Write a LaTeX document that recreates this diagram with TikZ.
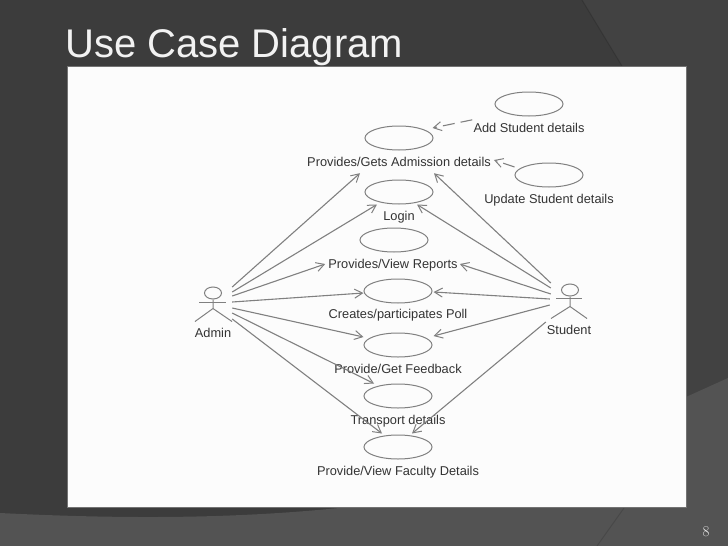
\documentclass[tikz,border=0pt]{standalone}
\usepackage{fontspec}
\setmainfont{Liberation Sans}
\usepackage{xcolor}
\usetikzlibrary{arrows.meta,shapes.geometric}
\definecolor{slideback}{HTML}{3C3C3C}
\definecolor{slideright}{HTML}{424242}
\definecolor{slidelow}{HTML}{535353}
\definecolor{umlgray}{HTML}{808080}
\definecolor{umltext}{HTML}{333333}

\begin{document}
\begin{tikzpicture}[
  x=1pt, y=-1pt,
  usecase/.style={draw=umlgray, ellipse, line width=1pt, minimum width=68pt, minimum height=24pt, inner sep=0pt},
  lab/.style={text=umltext, inner sep=0pt, text height=9.5pt, text depth=2.5pt, font=\fontsize{12.8}{14}\selectfont},
  actor/.style={minimum width=38pt, minimum height=34pt, inner sep=0pt},
  head/.style={draw=umlgray, ellipse, line width=1pt, minimum width=17pt, minimum height=12pt, inner sep=0pt},
  figure/.style={draw=umlgray, line width=1pt},
  assoc/.style={draw=umlgray, line width=1.1pt, -{Straight Barb[length=8pt,width=9pt,line width=1pt]}},
  incl/.style={assoc, dash pattern=on 12pt off 6pt}
]
\useasboundingbox (0,0) rectangle (728,546);
\fill[slideback] (0,0) rectangle (728,546);
\fill[slideright] (582,0) -- (622,66) -- (686,66) -- (686,400) -- (728,400) -- (728,0) -- cycle;
\draw[black, opacity=0.15, line width=1pt] (582,0) -- (622,66);
% lower band
\fill[slidelow] (0,513) .. controls (120,519) and (230,519) .. (339,508) -- (686,397) -- (728,378) -- (728,546) -- (0,546) -- cycle;
\draw[black, opacity=0.12, line width=1pt] (624,508) -- (597,546);
\fill[white!99!black, draw=gray!90!black, line width=0.8pt] (67,66) rectangle (686,507);
\node[anchor=base west, text=white!95!black, inner sep=0pt, font=\fontsize{40}{44}\selectfont] (title) at (65,57) {Use Case Diagram};
\node[text=white!92!black, inner sep=0pt, font=\fontfamily{lmr}\fontsize{15}{16}\selectfont] (pageno) at (706,532) {8};

\node[usecase] (uadd) at (529,104) {};
\node[lab] (ladd) at (529,129) {Add Student details};
\node[usecase] (uupd) at (549,175) {};
\node[lab] (lupd) at (549,200) {Update Student details};
\node[usecase] (uprov) at (399,138) {};
\node[lab] (lprov) at (399,163) {Provides/Gets Admission details};
\node[usecase] (ulogin) at (399,192) {};
\node[lab] (llogin) at (399,217) {Login};
\node[usecase] (urep) at (394,240) {};
\node[lab] (lrep) at (393,265) {Provides/View Reports};
\node[usecase] (upoll) at (398,291) {};
\node[lab] (lpoll) at (398,315) {Creates/participates Poll};
\node[usecase] (ufeed) at (398,345) {};
\node[lab] (lfeed) at (398,370) {Provide/Get Feedback};
\node[usecase] (utrans) at (398,396) {};
\node[lab] (ltrans) at (398,421) {Transport details};
\node[usecase] (ufac) at (398,447) {};
\node[lab] (lfac) at (398,472) {Provide/View Faculty Details};

% actors
\node[actor] (admin) at (213,303) {};
\node[head] (ahead) at (213,293) {};
\node[lab] (ladmin) at (213,334) {Admin};
\draw[figure] (ahead.south) -- ++(0,9) -- ++(-18,13) ++(18,-13) -- ++(19,13);
\draw[figure] (199,302) -- (226,302);
\node[actor] (student) at (570,302) {};
\node[head] (shead) at (570,290) {};
\node[lab] (lstudent) at (569,331) {Student};
\draw[figure] (shead.south) -- ++(0,10) -- ++(-19,12) ++(19,-12) -- ++(17,12);
\draw[figure] (556,298) -- (582,298);

\draw[incl] ([xshift=-1pt,yshift=3pt]ladd.north west) -- ([xshift=-1pt,yshift=10pt]uprov.east);
\draw[incl] ([yshift=8pt]uupd.west) -- ([xshift=3pt,yshift=3pt]lprov.east);

\draw[assoc] ([yshift=16pt]admin.east) -- ([xshift=-39pt,yshift=-4pt]lprov.south);
\draw[assoc] ([yshift=11pt]admin.east) -- ([xshift=-22pt]ulogin.south);
\draw[assoc] ([yshift=7pt]admin.east) -- ([xshift=-3pt,yshift=1pt]lrep.west);
\draw[assoc] ([yshift=1pt]admin.east) -- ([yshift=-2pt]upoll.west);
\draw[assoc] ([yshift=-5pt]admin.east) -- ([yshift=8pt]ufeed.west);
\draw[assoc] ([yshift=-10pt]admin.east) -- ([xshift=-24pt]utrans.north);
\draw[assoc] ([yshift=-16pt]admin.east) -- ([xshift=-16pt,yshift=1pt]ufac.north);

\draw[assoc] ([yshift=19pt]student.west) -- ([xshift=35pt,yshift=-4pt]lprov.south);
\draw[assoc] ([yshift=14pt]student.west) -- ([xshift=18pt]ulogin.south);
\draw[assoc] ([yshift=8pt]student.west) -- ([xshift=2pt,yshift=1pt]lrep.east);
\draw[assoc] ([xshift=-1pt,yshift=3pt]student.west) -- ([xshift=1pt,yshift=-1pt]upoll.east);
\draw[assoc] ([xshift=-1pt,yshift=-3pt]student.west) -- ([xshift=1pt,yshift=9pt]ufeed.east);
\draw[assoc] ([xshift=-5pt,yshift=-20pt]student.west) -- ([xshift=14pt,yshift=1pt]ufac.north);
\end{tikzpicture}
\end{document}
